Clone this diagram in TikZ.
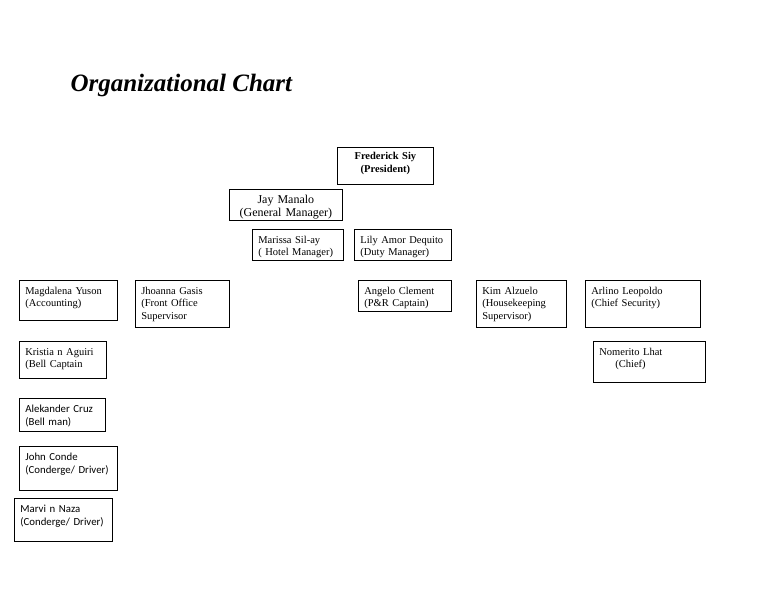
\documentclass[tikz,border=0pt]{standalone}
\usepackage{fontspec}
\setmainfont{Liberation Serif}
\newfontfamily\calibri{Carlito}
\usetikzlibrary{positioning}

\begin{document}
\begin{tikzpicture}[x=1pt, y=-1pt,
    box/.style 2 args={draw, line width=0.8pt, anchor=north west, inner xsep=6pt, inner ysep=3pt,
        text width=#1pt-12pt, text height=11pt, text depth=#2pt-17pt, align=left,
        font=\fontsize{10.5}{12.5}\selectfont},
    sbox/.style 2 args={box={#1}{#2}, font=\calibri\fontsize{10.8}{12.8}\selectfont},
    title/.style={anchor=base west, font=\bfseries\itshape\fontsize{25}{30}\selectfont}]
    \fill[white] (0,0) rectangle (768,594);
    \useasboundingbox (0,0) rectangle (768,594);

    \node[title] (title) at (67,92) {Organizational Chart};

    % top of the chart
    \node[box={96}{37}, align=center, text height=9pt, text depth=22pt, font=\bfseries\fontsize{10.5}{13}\selectfont] (pres) at (337,147) {Frederick Siy\\(President)};
    \node[box={113}{31}, align=center, text depth=14pt, font=\fontsize{12}{13.5}\selectfont] (gm) at (229,189) {Jay Manalo\\(General Manager)};
    \node[box={91}{31}] (hm) at (252,229) {Marissa Sil-ay\\( Hotel Manager)};
    \node[box={97}{31}] (dm) at (354,229) {Lily Amor Dequito\\(Duty Manager)};

    % department heads
    \node[box={98}{40}] (acc) at (19,280) {Magdalena Yuson\\(Accounting)};
    \node[box={94}{47}] (fo) at (135,280) {Jhoanna Gasis\\(Front Office\\Supervisor};
    \node[box={93}{31}] (pr) at (358,280) {Angelo Clement\\(P\&R Captain)};
    \node[box={90}{47}] (hk) at (476,280) {Kim Alzuelo\\(Housekeeping\\Supervisor)};
    \node[box={115}{47}] (sec) at (585,280) {Arlino Leopoldo\\(Chief Security)};

    % staff
    \node[box={87}{37}] (bell) at (19,341) {Kristia n Aguiri\\(Bell Captain};
    \node[box={112}{41}] (chief) at (593,341) {Nomerito Lhat\\\hspace*{16pt}(Chief)};
    \node[sbox={86}{33}] (bellman) at (19,398) {Alekander Cruz\\(Bell man)};
    \node[sbox={98}{44}] (drv1) at (19,446) {John Conde\\(Conderge/ Driver)};
    \node[sbox={98}{43}] (drv2) at (14,498) {Marvi n Naza\\(Conderge/ Driver)};
\end{tikzpicture}
\end{document}
